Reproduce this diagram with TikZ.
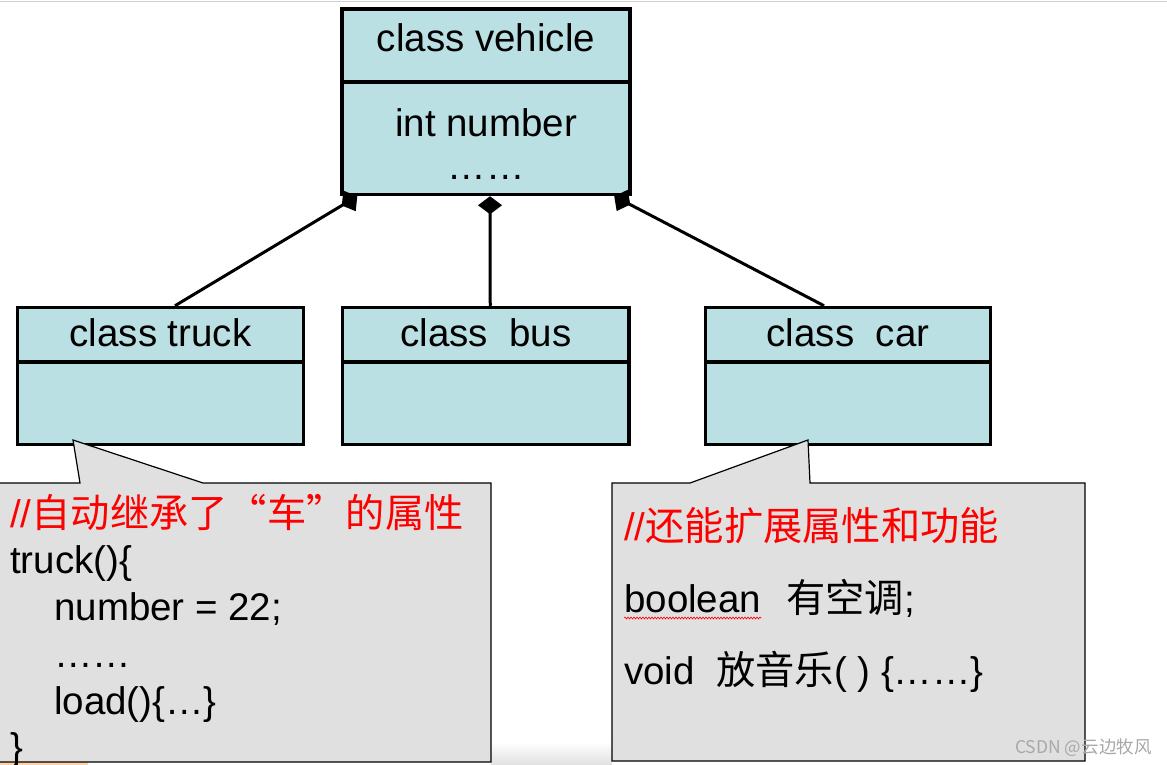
\documentclass[tikz,border=0pt]{standalone}
\usepackage{fontspec}
\setmainfont{Liberation Sans}
\newfontfamily\cjk[Scale=1.02]{Noto Sans CJK SC}
\newfontfamily\wmfont{Noto Sans CJK SC}
\usetikzlibrary{arrows.meta,decorations.pathmorphing}
\definecolor{boxfill}{HTML}{BAE0E3}
\definecolor{callfill}{HTML}{E0E0E0}
\definecolor{wmgray}{HTML}{A8A8A8}
\tikzset{
  cbox/.style={draw=black, fill=boxfill, line width=3.5pt, inner sep=0pt},
  divline/.style={draw=black, line width=3.5pt},
  conn/.style={draw=black, line width=3pt, -{Diamond[length=18pt,width=24pt,line width=0pt]}},
  callout/.style={draw=black, fill=callfill, line width=1.2pt, line join=miter},
  txt/.style={inner sep=0pt, anchor=base west, font=\fontsize{38.5}{46}\selectfont},
  ctxt/.style={txt, anchor=base},
  red txt/.style={txt, text=red},
}
\begin{document}
\begin{tikzpicture}[x=1pt,y=-1pt]
\useasboundingbox (0,0) rectangle (1167,765);
\fill[white] (0,0) rectangle (1167,765);
\draw[line width=1.5pt, draw=black!18] (0,1.5) -- (1167,1.5);
% bottom shadow strip and artefact
\shade[top color=white, bottom color=black!12] (491,742) rectangle (612,765);
\fill[orange!35] (0,762) rectangle (88,765);

% class boxes
\node[cbox, minimum width=288pt, minimum height=185.5pt] (veh) at (486,101.75) {};
\draw[divline] (veh.west |- 0,82) -- (veh.east |- 0,82);
\node[cbox, minimum width=286pt, minimum height=137pt] (truck) at (160.5,376) {};
\draw[divline] (truck.west |- 0,362) -- (truck.east |- 0,362);
\node[cbox, minimum width=286.5pt, minimum height=137pt] (bus) at (485.75,376) {};
\draw[divline] (bus.west |- 0,362) -- (bus.east |- 0,362);
\node[cbox, minimum width=285pt, minimum height=137pt] (car) at (848,376) {};
\draw[divline] (car.west |- 0,362) -- (car.east |- 0,362);

% texts in boxes
\node[ctxt] (vehname) at (486,52) {class vehicle};
\node[ctxt] (vehattr) at (486,136) {int number};
\node[ctxt] (vehdots) at (486,179) {……};
\node[ctxt] (truckname) at (160.5,346) {class truck};
\node[ctxt] (busname) at (486,346) {class\ \ bus};
\node[ctxt] (carname) at (848,346) {class\ \ car};

% connectors (composition diamonds at vehicle)
\draw[conn] ([xshift=14.5pt]truck.north) -- ([xshift=17pt]veh.south west);
\draw[conn] ([xshift=4.5pt]bus.north) -- ([xshift=4pt]veh.south);
\draw[conn] ([xshift=-24pt]car.north) -- ([xshift=-17.5pt]veh.south east);

% callouts
\draw[callout] (-2,483) -- (80,483) -- (73,440) -- (203,483) -- (491,483) -- (491,762) -- (-2,762) -- cycle;
\draw[callout] (612,483) -- (690,483) -- (808,440) -- (810,483) -- (1085,483) -- (1085,761) -- (612,761) -- cycle;

% left callout text
\node[red txt] (lc1) at (10,527) {//{\cjk 自动继承了“车”的属性}};
\node[txt] (lc2) at (10,573) {truck()\{};
\node[txt] (lc3) at (54,620) {number = 22;};
\node[txt] (lc4) at (54,667) {……};
\node[txt] (lc5) at (54,714) {load()\{…\}};
\node[txt] (lc6) at (10,760) {\}};

% right callout text
\node[red txt] (rc1) at (624,540) {//{\cjk 还能扩展属性和功能}};
\node[txt] (rc2a) at (624,612) {boolean};
\node[txt] (rc2b) at (786,612) {{\cjk 有空调};};
\node[txt] (rc3) at (624,684) {void\ \ {\cjk 放音乐}( ) \{……\}};
\draw[red, line width=0.6pt, decorate, decoration={snake, amplitude=1pt, segment length=3pt}]
  ([yshift=-6pt]rc2a.base west) -- ([yshift=-6pt]rc2a.base east);

% watermark
\node[inner sep=0pt, anchor=base west, text=wmgray, font=\wmfont\fontsize{17.5}{19}\selectfont] (wm) at (1015,753) {CSDN @云边牧风};
\end{tikzpicture}
\end{document}
